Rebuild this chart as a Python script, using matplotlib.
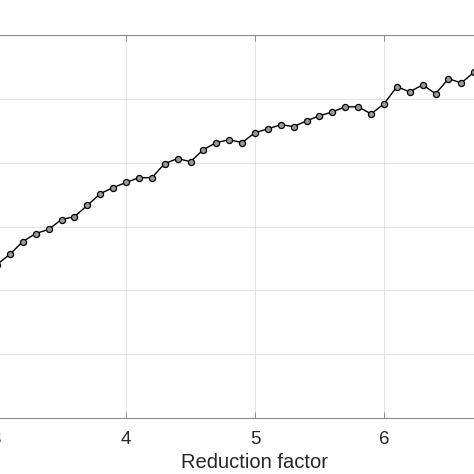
import numpy as np
import matplotlib.pyplot as plt

plt.rcParams['font.family'] = ['Liberation Sans', 'DejaVu Sans']

factor = np.array([3.0, 3.1, 3.2, 3.3, 3.4, 3.5, 3.6, 3.7, 3.8, 3.9,
                   4.0, 4.1, 4.2, 4.3, 4.4, 4.5, 4.6, 4.7, 4.8, 4.9,
                   5.0, 5.1, 5.2, 5.3, 5.4, 5.5, 5.6, 5.7, 5.8, 5.9,
                   6.0, 6.1, 6.2, 6.3, 6.4, 6.5, 6.6, 6.7])
value = np.array([24.81, 25.13, 25.53, 25.78, 25.91, 26.22, 26.31, 26.66, 27.03, 27.22,
                  27.38, 27.53, 27.53, 27.97, 28.13, 28.03, 28.41, 28.63, 28.72, 28.63,
                  28.94, 29.06, 29.19, 29.13, 29.31, 29.47, 29.59, 29.75, 29.75, 29.53,
                  29.84, 30.38, 30.22, 30.44, 30.16, 30.63, 30.50, 30.84])
xticks = [4, 5, 6]
yticks = [20, 22, 24, 26, 28, 30, 32]

fig = plt.figure(figsize=(4.74, 4.74), dpi=100)
# the picture is a crop of a wider chart: axes run past both side edges
ax = fig.add_axes([0, 0.1181, 1, 0.8080])

ax.plot(factor, value, '-o', color='black', lw=1.0, ms=4.4,
        mfc='#9a9a9a', mec='black', mew=0.9, zorder=3)

ax.set_xticks(xticks)
ax.set_yticks(yticks)
ax.set_xticklabels([str(t) for t in xticks])
ax.set_xlim(3.023, 6.698)
ax.set_ylim(20, 32)
ax.tick_params(axis='x', direction='in', length=4, width=0.6, top=True,
               colors='#808080', labelcolor='#262626', labelsize=13.5, pad=9)
ax.tick_params(axis='y', left=False, labelleft=False)

ax.grid(True, color='#e4e4e4', lw=0.7)
ax.set_axisbelow(True)
for side in ['left', 'right']:
    ax.spines[side].set_visible(False)
for side in ['top', 'bottom']:
    ax.spines[side].set_color('#8a8a8a')
    ax.spines[side].set_linewidth(0.8)

# "3" tick label sits almost entirely off the left edge
ax.text(2.99, -0.033, '3', transform=ax.get_xaxis_transform(), ha='center', va='top',
        fontsize=13.5, color='#262626', clip_on=False)

ax.set_xlabel('Reduction factor', fontsize=14.5, color='#262626')
ax.xaxis.set_label_coords((5 - 3.023) / (6.698 - 3.023), -0.092)

fig.savefig('out.png', dpi=100)
